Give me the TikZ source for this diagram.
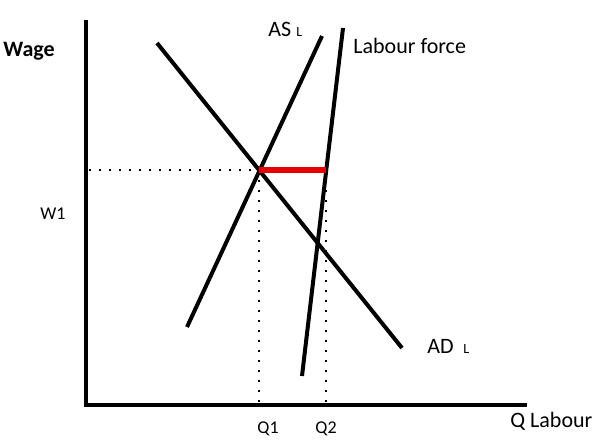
\documentclass[tikz,border=0pt]{standalone}
\usepackage{fontspec}
\setmainfont{Carlito}
\usetikzlibrary{positioning}

\begin{document}
\begin{tikzpicture}[
            x=0.5pt, y=-0.5pt,
            axis/.style={line width=2.3pt},
            curve/.style={line width=2pt},
            guide/.style={line width=1pt, dash pattern=on 1pt off 4pt},
            gap/.style={line width=2.6pt, red!90!black},
            lbl/.style={inner sep=0pt, anchor=base west, font=\fontsize{11}{13}\selectfont},
            small/.style={inner sep=0pt, anchor=base west, font=\fontsize{9}{11}\selectfont},
            sub/.style={inner sep=0pt, anchor=base west, font=\fontsize{7}{8}\selectfont}
        ]
        \useasboundingbox (0,0) rectangle (600,443);
        % axes
        \coordinate (origin) at (86,405);
        \coordinate (ytop) at (86,20);
        \coordinate (xend) at (527,405);
        \draw[axis] (ytop) -- (origin) -- (xend);
        % curves
        \coordinate (as1) at (187,327);
        \coordinate (as2) at (322,36);
        \coordinate (lf1) at (302,376);
        \coordinate (lf2) at (343,28);
        \coordinate (ad1) at (157,43);
        \coordinate (ad2) at (402,348);
        \draw[curve] (as1) -- (as2);
        \draw[curve] (lf1) -- (lf2);
        \draw[curve] (ad1) -- (ad2);
        % equilibrium and labour force at W1
        \coordinate (eq) at (259,170);
        \coordinate (lfw) at (326,170);
        \coordinate (yw) at (89,170);
        \coordinate (q1) at (259,403);
        \coordinate (q2) at (326,403);
        \draw[guide] (yw) -- (eq);
        \draw[guide] (eq) -- (q1);
        \draw[guide] (lfw) -- (q2);
        \draw[gap] (eq) -- (lfw);
        % labels
        \node[lbl, font=\bfseries\fontsize{11}{13}\selectfont] (wage) at (3,57) {Wage};
        \node[small] (w1) at (40,220) {W1};
        \node[lbl] (as) at (268,37) {AS};
        \node[sub] (asl) at (296,37) {L};
        \node[lbl] (lab) at (353,54) {Labour force};
        \node[lbl] (ad) at (427,354) {AD};
        \node[sub] (adl) at (463,354) {L};
        \node[small] (q1l) at (257,433) {Q1};
        \node[small] (q2l) at (315,433) {Q2};
        \node[lbl] (ql) at (510,427) {Q Labour};
        \end{tikzpicture}
\end{document}
